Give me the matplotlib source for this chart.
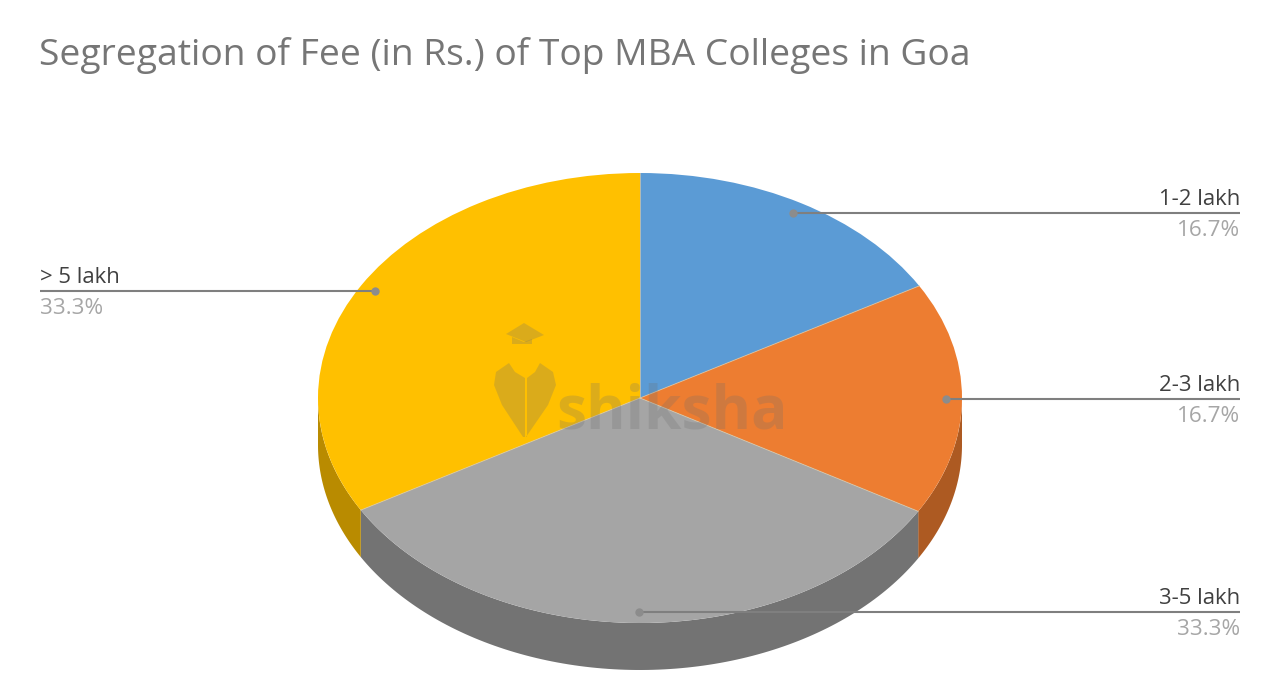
import numpy as np
import matplotlib
matplotlib.use("Agg")
import matplotlib.pyplot as plt

plt.rcParams['font.family'] = ['Open Sans', 'DejaVu Sans']

title = "Segregation of Fee (in Rs.) of Top MBA Colleges in Goa"
categories = ["1-2 lakh", "2-3 lakh", "3-5 lakh", "> 5 lakh"]
shares = [16.7, 16.7, 33.3, 33.3]
top_colors = ["#5B9BD5", "#ED7D31", "#A5A5A5", "#FFC000"]
side_colors = ["#3F7DB5", "#AD5A22", "#737373", "#B98B00"]

W, H = 1271, 682
cx, cy = 640, 398
rx, ry = 322, 225
depth = 47

fig = plt.figure(figsize=(W/100, H/100), dpi=100, facecolor="white")

# overlay in pixel coords, y going down
back = fig.add_axes([0, 0, 1, 1], zorder=1)
back.set_xlim(0, W)
back.set_ylim(H, 0)
back.axis("off")

front = fig.add_axes([0, 0, 1, 1], zorder=3)
front.set_xlim(0, W)
front.set_ylim(H, 0)
front.axis("off")
front.patch.set_alpha(0)

# slice angles, clockwise from the top
fractions = np.array(shares) / sum(shares)
edges = np.concatenate([[0], np.cumsum(fractions)]) * 2*np.pi
mids = (edges[:-1] + edges[1:]) / 2

# side wall of the disc
for i in range(len(shares)):
    a = max(edges[i], np.pi/2)
    b = min(edges[i+1], 3*np.pi/2)
    if b <= a:
        continue
    t = np.linspace(a, b, 120)
    x = cx + rx*np.sin(t)
    y = cy - ry*np.cos(t)
    back.fill(np.r_[x, x[::-1]], np.r_[y, y[::-1] + depth], color=side_colors[i], lw=0)

# top of the disc, squashed by giving the pie its own non equal axes
pie_ax = fig.add_axes([(cx-rx)/W, 1-(cy+ry)/H, 2*rx/W, 2*ry/H], zorder=2)
pie_ax.pie(shares, colors=top_colors, startangle=90, counterclock=False, radius=1,
           wedgeprops={"linewidth": 0})
pie_ax.set_aspect("auto")
pie_ax.set_xlim(-1, 1)
pie_ax.set_ylim(-1, 1)

# pale seams between slices
for e in edges[:-1]:
    front.plot([cx, cx + rx*np.sin(e)], [cy, cy - ry*np.cos(e)], color="#D9C9A8", lw=0.7, alpha=0.7)

# watermark
wm = "#6E6E6E"
front.text(672, 413, "shiksha", fontsize=43.5, fontweight="bold", color=wm, alpha=0.24,
           ha="center", va="center", family=["Open Sans", "DejaVu Sans"])
front.fill([506, 524, 544, 526], [334, 323, 335, 342], color=wm, alpha=0.25, lw=0)
front.fill([512, 512, 532, 532, 524], [337, 344, 344, 339, 342], color=wm, alpha=0.25, lw=0)
front.fill([509, 496, 494, 502, 523, 525, 525, 515], [363, 372, 385, 405, 437, 437, 378, 372],
           color=wm, alpha=0.25, lw=0)
front.fill([540, 553, 556, 548, 526, 527, 527, 535], [363, 372, 385, 405, 437, 437, 378, 372],
           color=wm, alpha=0.25, lw=0)

# leader lines and labels
right_x, left_x = 1240, 40
for name, val, m in zip(categories, shares, mids):
    ax_x = cx + 0.95*rx*np.sin(m)
    ax_y = cy - 0.95*ry*np.cos(m)
    on_left = ax_x < cx - 1
    end = left_x if on_left else right_x
    ha = "left" if on_left else "right"
    front.plot([ax_x, end], [ax_y, ax_y], color="#7F7F7F", lw=1.5, solid_capstyle="butt")
    front.plot([ax_x], [ax_y], "o", ms=6, color="#8C8C8C", mew=0)
    front.text(end, ax_y - 3, name, fontsize=15.9, color="#404040", ha=ha, va="bottom")
    front.text(end, ax_y + 7, f"{val:.1f}%", fontsize=16.2, color="#A6A6A6", ha=ha, va="top")

front.text(39, 56, title, fontsize=26.8, color="#767676", ha="left", va="center")

fig.savefig("out.png", dpi=100, facecolor="white")
